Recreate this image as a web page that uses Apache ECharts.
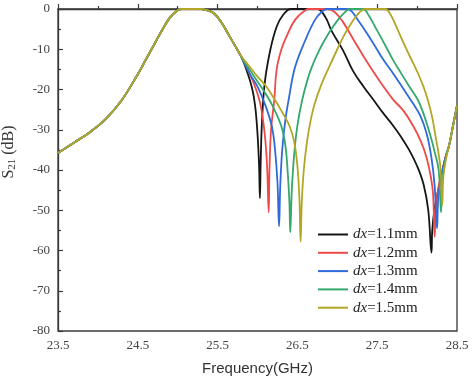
<!DOCTYPE html>
<html>
<head>
<meta charset="utf-8">
<script src="https://cdn.jsdelivr.net/npm/echarts@6/dist/echarts.min.js"></script>
<style>html,body{margin:0;padding:0;background:#fff;}#c{width:474px;height:379px;}</style>
</head>
<body>
<div id="c"></div>
<script>
// Shared low-frequency part (all series overlap)
const commonF  = [23.5, 23.7, 23.9, 24.1, 24.3, 24.5, 24.6, 24.7, 24.8, 24.9, 25.0, 25.05, 25.3, 25.35, 25.45, 25.55, 25.65, 25.75];
const commonDb = [-35.8, -33.2, -30.6, -27.3, -22.6, -16.2, -12.6, -9.0, -5.4, -2.2, -0.3, 0, 0, -0.2, -1.0, -3.4, -6.8, -10.2];
// Shared high-frequency tail
const tailF  = [28.4, 28.45, 28.5];
const tailDb = [-34, -29, -24];

const names = ['dx=1.1mm', 'dx=1.2mm', 'dx=1.3mm', 'dx=1.4mm', 'dx=1.5mm'];
const colors = ['#151515', '#ee4a4a', '#2f6bd8', '#35a86c', '#b3a626'];

const f11  = [25.8, 25.86, 25.93, 25.97, 26.0, 26.02, 26.03, 26.04, 26.055, 26.09, 26.16, 26.24, 26.32, 26.42, 26.75, 26.85, 26.93, 27.07, 27.2, 27.33, 27.45, 27.58, 27.7, 27.8, 27.9, 28.0, 28.08, 28.14, 28.18, 28.19, 28.22, 28.27, 28.32, 28.36];
const s11  = [-12, -15, -19.5, -24, -31, -39, -47, -38, -28.5, -18.5, -10.2, -4.4, -1.5, 0, 0, -2, -5.5, -10.2, -15.5, -19.3, -22.5, -26, -29, -31.8, -35, -39, -43.5, -50, -60.5, -55, -49.5, -44.5, -40, -36.5];

const f12  = [25.8, 25.9, 25.97, 26.04, 26.09, 26.12, 26.14, 26.15, 26.17, 26.21, 26.24, 26.3, 26.36, 26.47, 26.6, 26.65, 26.88, 26.97, 27.07, 27.2, 27.33, 27.45, 27.58, 27.7, 27.83, 27.95, 28.05, 28.12, 28.17, 28.2, 28.22, 28.235, 28.27, 28.32, 28.36];
const s12  = [-12, -16, -19.3, -24, -31, -39, -50.5, -40, -30, -22.6, -15, -10, -7, -2.7, -0.3, 0, 0, -0.8, -3.2, -7.5, -11.8, -15.5, -19.3, -22.5, -25.3, -29, -33, -37, -41.5, -46, -56.6, -49, -44, -40, -36.5];

const f13  = [25.8, 25.9, 26.0, 26.1, 26.18, 26.22, 26.25, 26.27, 26.285, 26.31, 26.35, 26.39, 26.47, 26.6, 26.72, 26.8, 26.87, 27.12, 27.18, 27.25, 27.33, 27.45, 27.58, 27.7, 27.85, 27.95, 28.04, 28.12, 28.18, 28.22, 28.25, 28.265, 28.3, 28.33, 28.37];
const s13  = [-12, -16, -19.3, -24, -29.2, -35, -43, -54, -44, -35, -27.5, -22.6, -14.5, -7.7, -2.7, -0.8, 0, 0, -0.6, -2.5, -4.8, -8.5, -12.7, -16, -20.5, -23.5, -26.5, -31, -37, -44, -54.5, -47, -42, -39, -36];

const f14  = [25.8, 25.9, 26.0, 26.1, 26.2, 26.3, 26.35, 26.38, 26.4, 26.41, 26.43, 26.46, 26.5, 26.56, 26.66, 26.78, 26.9, 27.02, 27.1, 27.15, 27.32, 27.4, 27.49, 27.6, 27.7, 27.8, 27.91, 28.01, 28.08, 28.16, 28.22, 28.27, 28.3, 28.31, 28.33, 28.37];
const s14  = [-12, -15, -18, -21, -24.5, -29.2, -34, -41, -48, -55.5, -45, -36, -29, -22.6, -15.5, -10, -5.8, -2.4, -0.7, 0, 0, -1.8, -5, -9, -12.7, -16, -19.5, -22.6, -26, -31, -35.5, -40, -50.5, -45, -40.5, -36];

const f15  = [25.8, 25.9, 26.0, 26.1, 26.2, 26.3, 26.4, 26.46, 26.5, 26.525, 26.54, 26.555, 26.58, 26.62, 26.67, 26.72, 26.8, 26.9, 27.0, 27.1, 27.2, 27.28, 27.35, 27.6, 27.67, 27.74, 27.82, 27.91, 28.0, 28.08, 28.14, 28.19, 28.23, 28.27, 28.295, 28.315, 28.33, 28.37];
const s15  = [-11.8, -14.3, -16.8, -19, -22, -25.3, -29, -33, -39, -47, -57.8, -48, -40, -33, -27.3, -23.3, -18.8, -14.3, -10, -6, -2.8, -0.8, 0, 0, -1.5, -4.4, -8, -11.8, -15.5, -19.3, -23, -27, -31.5, -36, -40, -48.7, -41.5, -36.5];

const xTicks = { min: 23.5, max: 28.5, interval: 1 };
const yTicks = { min: -80, max: 0, interval: 10 };

function pairs(fs, vs) { return fs.map((f, i) => [f, vs[i]]); }
function build(fMid, sMid) {
  return pairs(commonF, commonDb).concat(pairs(fMid, sMid)).concat(pairs(tailF, tailDb));
}
const mids = [[f11, s11], [f12, s12], [f13, s13], [f14, s14], [f15, s15]];

const serif = 'Liberation Serif';
const chart = echarts.init(document.getElementById('c'), null, { renderer: 'canvas' });
chart.setOption({
  animation: false,
  backgroundColor: '#ffffff',
  grid: { left: 58, right: 17, top: 9, bottom: 48, outerBoundsMode: 'none', containLabel: false, show: true, borderColor: '#3a3a3a', borderWidth: 1.3, backgroundColor: 'transparent' },
  legend: {
    orient: 'vertical', left: 318, top: 227, padding: 0, itemWidth: 30, itemHeight: 2, itemGap: 3.3,
    icon: 'rect',
    data: names,
    formatter: function (n) { return '{i|dx}{n|' + n.slice(2) + '}'; },
    textStyle: {
      rich: {
        i: { fontFamily: serif, fontStyle: 'italic', fontSize: 15, color: '#222' },
        n: { fontFamily: serif, fontSize: 15, color: '#222' }
      }
    }
  },
  xAxis: {
    type: 'value', min: xTicks.min, max: xTicks.max, interval: xTicks.interval,
    name: 'Frequency(GHz)', nameLocation: 'middle', nameGap: 30,
    nameTextStyle: { fontFamily: 'Liberation Sans', fontSize: 15, color: '#333' },
    axisLine: { lineStyle: { color: '#3a3a3a', width: 1.3 } },
    axisTick: { inside: true, length: 5, lineStyle: { color: '#3a3a3a', width: 1.2 } },
    minorTick: { show: true, splitNumber: 2, length: 3, lineStyle: { color: '#3a3a3a', width: 1.2 } },
    axisLabel: { fontFamily: serif, fontSize: 13, color: '#444', margin: 8, formatter: v => v.toFixed(1) },
    splitLine: { show: false }
  },
  yAxis: {
    type: 'value', min: yTicks.min, max: yTicks.max, interval: yTicks.interval,
    name: '{n|S}{s|21}{n| (dB)}', nameLocation: 'middle', nameGap: 40,
    nameTextStyle: {
      padding: [0, 0, 0, 36],
      rich: {
        n: { fontFamily: serif, fontSize: 16, color: '#333' },
        s: { fontFamily: serif, fontSize: 11, color: '#333', verticalAlign: 'bottom', padding: [8, 0, 0, 0] }
      }
    },
    axisLine: { lineStyle: { color: '#3a3a3a', width: 1.3 } },
    axisTick: { inside: true, length: 5, lineStyle: { color: '#3a3a3a', width: 1.2 } },
    minorTick: { show: true, splitNumber: 2, length: 3, lineStyle: { color: '#3a3a3a', width: 1.2 } },
    axisLabel: { fontFamily: serif, fontSize: 13, color: '#444', margin: 8 },
    splitLine: { show: false }
  },
  series: names.map((n, i) => ({
    name: n, type: 'line', data: build(mids[i][0], mids[i][1]),
    symbol: 'none', smooth: 0.4,
    lineStyle: { color: colors[i], width: 1.8 }, itemStyle: { color: colors[i] },
    z: 2 + i
  }))
});
</script>
</body>
</html>
